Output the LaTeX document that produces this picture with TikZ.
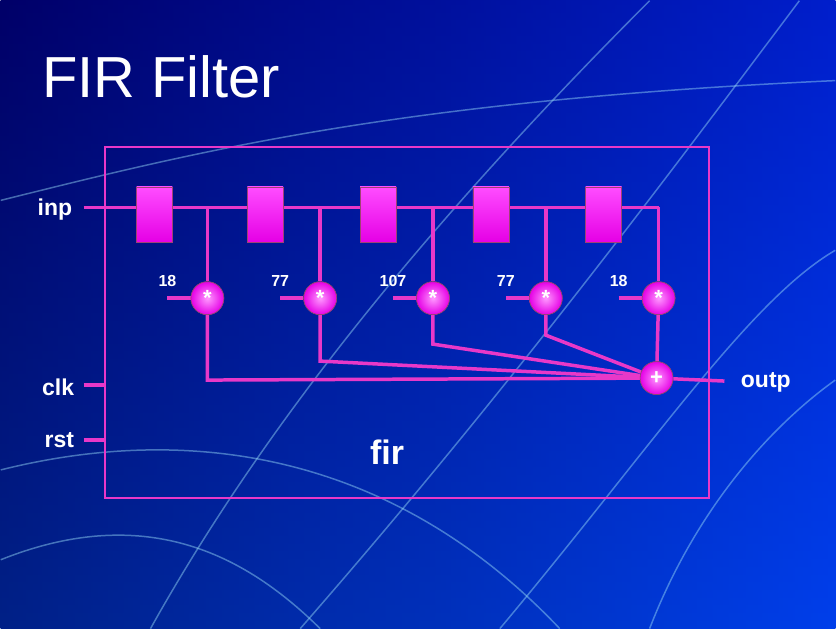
\documentclass[tikz,border=0pt]{standalone}
\usepackage{fontspec}
\setmainfont{Liberation Sans}
\definecolor{pk}{HTML}{E838C8}
\begin{document}
\begin{tikzpicture}[x=1pt,y=-1pt,
  wire/.style={draw=pk,line width=3.5pt},
  reg/.style={draw=magenta!60!black,line width=0.5pt,top color=magenta!70!white,bottom color=magenta!90!black,minimum width=36pt,minimum height=55pt,inner sep=0},
  op/.style={circle,draw=magenta!50!black,line width=0.6pt,inner color=magenta!40!white,outer color=magenta!90!black,minimum size=33pt,inner sep=0,text=white,font=\bfseries\fontsize{22}{22}\selectfont},
  lbl/.style={text=white,font=\bfseries\fontsize{23}{23}\selectfont},
  num/.style={text=white,font=\bfseries\fontsize{16}{16}\selectfont},
  streak/.style={draw=cyan!40!white,opacity=0.45,line width=1.5pt}]
\shade[top color=blue!50!black,bottom color=blue!60!cyan!80!black] (0,0) rectangle (836,629);
\shade[left color=blue!35!black,right color=blue!80!cyan,opacity=0.6] (0,0) rectangle (836,629);
\draw[streak] (0,200) .. controls (200,150) and (400,100) .. (836,80);
\draw[streak] (300,629) .. controls (500,400) and (650,200) .. (800,0);
\draw[streak] (0,470) .. controls (200,420) and (400,460) .. (560,629);
\draw[streak] (150,629) .. controls (250,450) and (400,250) .. (650,0);
\draw[streak] (500,629) .. controls (650,450) and (750,300) .. (836,250);
\draw[streak] (0,560) .. controls (150,500) and (250,560) .. (320,629);
\draw[streak] (650,629) .. controls (700,500) and (780,420) .. (836,380);
\node[anchor=west,text=white,font=\fontsize{58}{58}\selectfont] (title) at (38,76) {FIR Filter};
\draw[draw=pk,line width=2pt] (104,147) rectangle (710,498);
\coordinate (in) at (83,207);
\coordinate (inend) at (659,207);
\draw[wire] (in) -- (inend);
\foreach \i/\x in {1/154,2/265,3/378,4/491,5/604}{
  \node[reg] (r\i) at (\x,214) {};
}
\foreach \i/\x/\c in {1/207/18,2/320/77,3/433/107,4/546/77,5/659/18}{
  \node[op] (m\i) at (\x,298) {};
  \coordinate (t\i) at (\x,207);
  \coordinate (k\i) at (\x-40,298);
  \node[num] (c\i) at (\x-40,281) {\c};
  \draw[wire] (t\i) -- (m\i);
  \draw[wire] (k\i) -- (m\i);
}
\node[op] (add) at (657,378) {};
\draw[wire] (m1) -- (207,380) -- (add);
\draw[wire] (m2) -- (320,361) -- (add);
\draw[wire] (m3) -- (433,344) -- (add);
\draw[wire] (m4) -- (546,335) -- (add);
\draw[wire] (m5) -- (add);
\foreach \i in {1,...,5}{\node[op] at (m\i) {*};}
\node[op] at (add) {+};
\coordinate (out) at (725,381);
\draw[wire] (add) -- (out);
\node[lbl,anchor=west] (outp) at (738,382) {outp};
\node[lbl,anchor=east] (inp) at (75,209) {inp};
\node[lbl,anchor=east] (clk) at (77,387) {clk};
\node[lbl,anchor=east] (rst) at (77,440) {rst};
\coordinate (clka) at (83,385); \coordinate (clkb) at (104,385);
\coordinate (rsta) at (83,440); \coordinate (rstb) at (104,440);
\draw[wire] (clka) -- (clkb);
\draw[wire] (rsta) -- (rstb);
\node[text=white,font=\bfseries\fontsize{34}{34}\selectfont] (fir) at (387,452) {fir};
\end{tikzpicture}
\end{document}
